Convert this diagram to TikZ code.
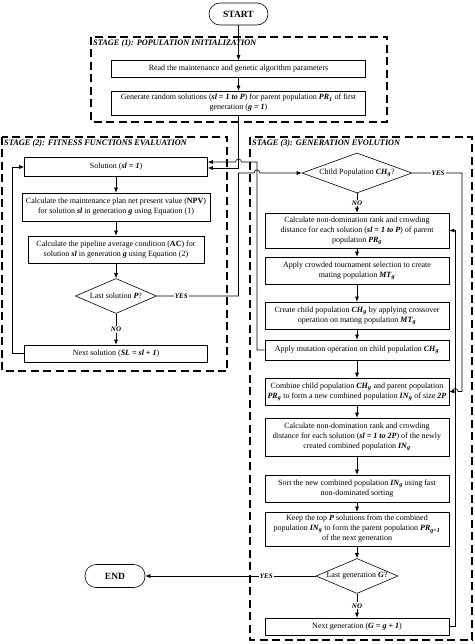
\documentclass[tikz,border=0pt]{standalone}
\usepackage{fontspec}
\setmainfont{Liberation Serif}
\usetikzlibrary{shapes,arrows.meta}
\newcommand{\bi}[1]{\textbf{\textit{#1}}}
\newcommand{\sbs}[1]{\textsubscript{\bi{#1}}}

\begin{document}
\begin{tikzpicture}[x=1pt,y=-1pt,
  box/.style={rectangle,draw,fill=white,align=center,inner sep=1pt,line width=0.6pt,font=\fontsize{8pt}{10pt}\selectfont},
  dia/.style={diamond,draw,fill=white,inner sep=0pt,inner xsep=-4pt,aspect=2.5,line width=0.6pt,font=\fontsize{8pt}{10pt}\selectfont},
  term/.style={rectangle,rounded corners=11pt,draw,line width=0.6pt,font=\fontsize{9.5pt}{11pt}\selectfont\bfseries},
  stage/.style={draw,line width=1.6pt,dash pattern=on 8pt off 4.5pt},
  stitle/.style={anchor=west,inner sep=1pt,font=\fontsize{8.3pt}{9pt}\selectfont\bfseries\itshape},
  lab/.style={fill=white,inner sep=1pt,font=\fontsize{7pt}{8pt}\selectfont\bfseries\itshape},
  arr/.style={-{Latex[length=5pt,width=4pt]},line width=0.6pt}]
\useasboundingbox (0,0) rectangle (474,644);

\draw[stage] (91,37) rectangle (387,122);
\draw[stage] (2,137) rectangle (227,371);
\draw[stage] (250,137) rectangle (472,640);
\node[stitle] (t1) at (92,44) {STAGE (1): POPULATION INITIALIZATION};
\node[stitle] (t2) at (3,144) {STAGE (2): FITNESS FUNCTIONS EVALUATION};
\node[stitle] (t3) at (251,144) {STAGE (3): GENERATION EVOLUTION};

\node[term,minimum width=59pt,minimum height=22pt] (start) at (238.5,14) {START};
\node[box,minimum width=254pt,minimum height=17pt] (read) at (238.5,69) {Read the maintenance and genetic algorithm parameters};
\node[box,minimum width=254pt,minimum height=24pt] (gen) at (238.5,103) {Generate random solutions (\bi{sl = 1 to P}) for parent population \bi{PR}\sbs{1} of first\\ generation (\bi{g = 1})};

\node[box,minimum width=183pt,minimum height=19pt] (sol) at (116,167) {Solution (\bi{sl = 1})};
\node[box,minimum width=188pt,minimum height=28pt] (npv) at (116,207) {Calculate the maintenance plan net present value (\textbf{NPV})\\ for solution \bi{sl} in generation \bi{g} using Equation (1)};
\node[box,minimum width=176pt,minimum height=27pt] (ac) at (116,249.5) {Calculate the pipeline average condition (\textbf{AC}) for\\ solution \bi{sl} in generation \bi{g} using Equation (2)};
\node[dia,minimum width=81pt,minimum height=35pt] (ls) at (116,296) {Last solution \bi{P}?};
\node[box,minimum width=183pt,minimum height=17pt] (nsol) at (116,353.5) {Next solution (\bi{SL = sl + 1})};

\node[dia,minimum width=110pt,minimum height=40pt] (ch) at (357,173) {Child Population \bi{CH}\sbs{g}?};
\node[box,minimum width=184pt,minimum height=35pt] (c1) at (357,230.5) {Calculate non-domination rank and crowding\\ distance for each solution (\bi{sl = 1 to P}) of parent\\ population \bi{PR}\sbs{g}};
\node[box,minimum width=184pt,minimum height=27pt] (tour) at (357,270.5) {Apply crowded tournament selection to create\\ mating population \bi{MT}\sbs{g}};
\node[box,minimum width=184pt,minimum height=27pt] (cross) at (357,315.5) {Create child population \bi{CH}\sbs{g} by applying crossover\\ operation on mating population \bi{MT}\sbs{g}};
\node[box,minimum width=184pt,minimum height=20pt] (mut) at (357,350) {Apply mutation operation on child population \bi{CH}\sbs{g}};
\node[box,minimum width=184pt,minimum height=27pt] (comb) at (357,391.5) {Combine child population \bi{CH}\sbs{g} and parent population\\ \bi{PR}\sbs{g} to form a new combined population \bi{IN}\sbs{g} of size \bi{2P}};
\node[box,minimum width=184pt,minimum height=38pt] (c2) at (357,437) {Calculate non-domination rank and crowding\\ distance for each solution (\bi{sl = 1 to 2P}) of the newly\\ created combined population \bi{IN}\sbs{g}};
\node[box,minimum width=184pt,minimum height=27pt] (sort) at (357,488.5) {Sort the new combined population \bi{IN}\sbs{g} using fast\\ non-dominated sorting};
\node[box,minimum width=184pt,minimum height=34pt] (keep) at (357,529) {Keep the top \bi{P} solutions from the combined\\ population \bi{IN}\sbs{g} to form the parent population \bi{PR}\sbs{g+1}\\ of the next generation};
\node[dia,minimum width=82pt,minimum height=35pt] (lg) at (357,576) {Last generation \bi{G}?};
\node[box,minimum width=184pt,minimum height=17pt] (ngen) at (357,626.5) {Next generation (\bi{G = g + 1})};
\node[term,minimum width=60pt,minimum height=23pt] (end) at (115,576) {END};

\coordinate (j1) at (238.5,168);
\coordinate (j2) at (238.5,173);
\coordinate (h1) at (254,173);
\coordinate (m1) at (257,162);
\coordinate (h2) at (241.5,162);
\coordinate (l1) at (12,167);
\coordinate (r1) at (462,173);
\coordinate (h3) at (458,391.5);
\coordinate (r2) at (455,230.5);

\draw[arr] (start) -- (read);
\draw[arr] (read) -- (gen);
\draw[arr] (gen.south) -- (j1) -- (sol.east |- j1);
\draw[arr] (sol) -- (npv);
\draw[arr] (npv) -- (ac);
\draw[arr] (ac) -- (ls);
\draw[arr] (ls) -- node[lab]{NO} (nsol);
\draw[arr] (nsol.west) -| (l1) -- (sol.west);
\draw[arr] (ls.east) -- node[lab,pos=0.3]{YES} (ls.east -| j2) -- (j2) -- (h1) arc[start angle=180,end angle=0,radius=3pt] -- (ch.west);
\draw[arr] (mut.west) -| (m1) -- (h2) arc[start angle=0,end angle=180,radius=3pt] -- (sol.east |- m1);

\draw[arr] (ch) -- node[lab]{NO} (c1);
\draw[arr] (ch.east) -- node[lab,pos=0.52]{YES} (r1) -- (r1 |- comb) -- (h3) arc[start angle=0,end angle=180,radius=3pt] -- (comb.east);
\draw[arr] (c1) -- (tour);
\draw[arr] (tour) -- (cross);
\draw[arr] (cross) -- (mut);
\draw[arr] (mut) -- (comb);
\draw[arr] (comb) -- (c2);
\draw[arr] (c2) -- (sort);
\draw[arr] (sort) -- (keep);
\draw[arr] (keep) -- (lg);
\draw[arr] (lg) -- node[lab]{NO} (ngen);
\draw[arr] (lg) -- node[lab,pos=0.29]{YES} (end);
\draw[arr] (ngen.east) -| (r2) -- (c1.east);
\end{tikzpicture}
\end{document}
